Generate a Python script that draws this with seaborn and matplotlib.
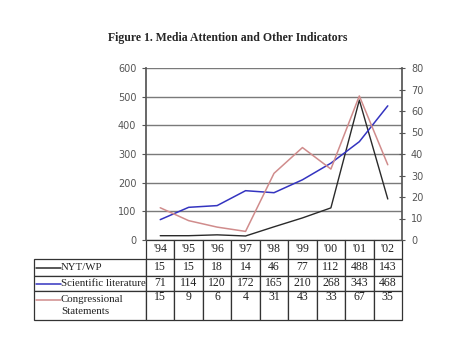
import matplotlib
matplotlib.use('Agg')
import matplotlib.pyplot as plt
from matplotlib.lines import Line2D
import seaborn as sns
import pandas as pd

years = ["'94", "'95", "'96", "'97", "'98", "'99", "'00", "'01", "'02"]
nyt_wp = [15, 15, 18, 14, 46, 77, 112, 488, 143]
sci_lit = [71, 114, 120, 172, 165, 210, 268, 343, 468]
congress = [15, 9, 6, 4, 31, 43, 33, 67, 35]

series_names = ['NYT/WP', 'Scientific literature', 'Congressional\nStatements']
colors = ['#2a2a2a', '#3434c0', '#d08c8c']

sns.set_theme(style='white')
plt.rcParams['font.family'] = ['DejaVu Sans']

df = pd.DataFrame({'year': years, 'nyt': nyt_wp, 'sci': sci_lit, 'cong': congress})

AX_W, AX_H = 256, 172  # plot area in pixels
LAB_W = 112            # width of the label column
fig = plt.figure(figsize=(4.74, 3.55), dpi=100)
ax = fig.add_axes([146 / 474, 1 - 240 / 355, AX_W / 474, AX_H / 355])
ax2 = ax.twinx()

sns.lineplot(data=df, x='year', y='nyt', color=colors[0], lw=1, ax=ax, sort=False)
sns.lineplot(data=df, x='year', y='sci', color=colors[1], lw=1.1, ax=ax, sort=False)
sns.lineplot(data=df, x='year', y='cong', color=colors[2], lw=1.1, ax=ax2, sort=False)

ax.set_xlim(-0.5, len(years) - 0.5)
ax.set_ylim(0, 600)
ax.set_yticks(range(0, 601, 100))
ax2.set_ylim(0, 80)
ax2.set_yticks(range(0, 81, 10))
for a in (ax, ax2):
    a.set_xlabel('')
    a.set_ylabel('')
    a.set_xticks([])
    for s in a.spines.values():
        s.set_visible(False)
ax.yaxis.grid(True, color='#7a7a7a', lw=1)
ax.set_axisbelow(True)
ax.spines['left'].set_visible(True)
ax.spines['left'].set_color('#555555')
ax2.spines['right'].set_visible(True)
ax2.spines['right'].set_color('#555555')
ax.tick_params(axis='y', left=True, length=3, width=0.8, color='#555555',
               labelsize=7, labelcolor='#555555', pad=4, direction='out')
ax2.tick_params(axis='y', right=True, length=5, width=0.8, color='#555555',
                labelsize=7, labelcolor='#555555', pad=4, direction='inout')

# data table under the plot (first column holds the series names)
cell_text = [[series_names[0]] + [str(v) for v in nyt_wp],
             [series_names[1]] + [str(v) for v in sci_lit],
             [series_names[2]] + [str(v) + '\n ' for v in congress]]
col_widths = [LAB_W / AX_W] + [1 / len(years)] * len(years)
tab = ax.table(cellText=cell_text, colLabels=[''] + years, colWidths=col_widths,
               cellLoc='center',
               bbox=[-LAB_W / AX_W, -80 / AX_H, 1 + LAB_W / AX_W, 80 / AX_H])
tab.auto_set_font_size(False)
heights = {0: 19, 1: 17, 2: 15, 3: 29}
for (r, c), cell in tab.get_celld().items():
    cell.set_height(heights[r] / AX_H)
    cell.set_linewidth(0.9)
    cell.set_edgecolor('#333333')
    txt = cell.get_text()
    txt.set_fontfamily('Liberation Serif')
    txt.set_fontsize(8.5)
    txt.set_color('#222222')
    if r == 3:
        txt.set_linespacing(1.45)
    if c == 0:
        if r == 0:
            cell.visible_edges = ''
        cell.PAD = 27 / LAB_W
        txt.set_horizontalalignment('left')
        txt.set_fontsize(7.8)

# legend keys inside the label cells
key_y = [268, 284, 300]
for col, y in zip(colors, key_y):
    fig.add_artist(Line2D([36 / 474, 61 / 474], [1 - y / 355, 1 - y / 355],
                          color=col, lw=1.1, transform=fig.transFigure))

fig.text(228 / 474, 1 - 38 / 355, 'Figure 1. Media Attention and Other Indicators',
         ha='center', va='center', fontsize=8.5, fontweight='bold',
         family='Liberation Serif')

fig.savefig('out.png', dpi=100)
